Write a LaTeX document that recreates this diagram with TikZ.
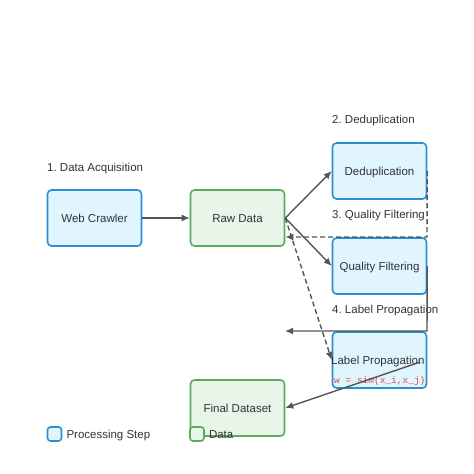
\documentclass[tikz,border=0pt]{standalone}
\usepackage{fontspec}
\setmainfont{Liberation Sans}
\setmonofont{Liberation Mono}
\usetikzlibrary{arrows.meta,positioning}
\definecolor{procfill}{HTML}{E1F5FE}
\definecolor{procline}{HTML}{2A8FD0}
\definecolor{datfill}{HTML}{E8F5E9}
\definecolor{datline}{HTML}{5BAA5E}
\definecolor{txt}{HTML}{333333}
\definecolor{ln}{HTML}{555555}
\definecolor{codered}{HTML}{E04A4A}
\frenchspacing
\tikzset{
  proc/.style={rectangle,draw=procline,fill=procfill,rounded corners=4pt,line width=1.6pt,minimum width=94pt,minimum height=56pt,inner sep=0pt,text height=8.3pt,text depth=0pt,text=txt,font=\fontsize{11.5}{14}\selectfont},
  dat/.style={proc,draw=datline,fill=datfill},
  lbl/.style={anchor=west,inner sep=0pt,text height=8.3pt,text depth=0pt,text=txt,font=\fontsize{11.5}{14}\selectfont},
  arr/.style={-{Latex[length=8pt,width=7pt]},draw=ln,line width=1.4pt},
  dsh/.style={arr,dash pattern=on 5pt off 3pt},
}
\begin{document}
\begin{tikzpicture}[x=1pt,y=-1pt]
  \useasboundingbox (0,0) rectangle (474,474);
  \node[proc] (crawler) at (94.5,218) {Web Crawler};
  \node[dat] (raw) at (237.5,218) {Raw Data};
  \node[proc] (dedup) at (379.5,171) {Deduplication};
  \node[proc] (qual) at (379.5,266) {Quality Filtering};
  \node[proc] (prop) at (379.5,360) {};
  \node[dat] (final) at (237.5,408) {Final Dataset};
  \node[lbl] (proptxt) at (331,360.5) {Label Propagation};
  \node[lbl,text height=6.5pt,text=codered,font=\fontsize{9.5}{11}\ttfamily] (propcode) at (334,380.5) {w = sim(x\_i,x\_j)};
  \node[lbl] (s1) at (47,167) {1. Data Acquisition};
  \node[lbl] (s2) at (332,119) {2. Deduplication};
  \node[lbl] (s3) at (332,214) {3. Quality Filtering};
  \node[lbl] (s4) at (332,309) {4. Label Propagation};
  \coordinate (fb1) at (427,237);
  \coordinate (fb2) at (427,331);
  \coordinate (fbend) at (285,331);
  \draw[arr] (crawler) -- (raw);
  \draw[arr] (raw.east) -- (dedup.west);
  \draw[arr] (raw.east) -- (qual.west);
  \draw[dsh] (raw.east) -- (prop.west);
  \draw[dsh] (dedup.east) -- (fb1) -- (raw.east |- fb1);
  \draw[arr] (qual.east) -- (fb2) -- (fbend);
  \draw[arr] ([xshift=-7pt,yshift=-2pt]prop.east) -- (final.east);
  \node[proc,minimum width=14pt,minimum height=14pt,rounded corners=3pt] (lgproc) at (54.5,434) {};
  \node[lbl,right=4pt of lgproc] (lgproctxt) {Processing Step};
  \node[dat,minimum width=14pt,minimum height=14pt,rounded corners=3pt] (lgdat) at (197,434) {};
  \node[lbl,right=4pt of lgdat] (lgdattxt) {Data};
\end{tikzpicture}
\end{document}
